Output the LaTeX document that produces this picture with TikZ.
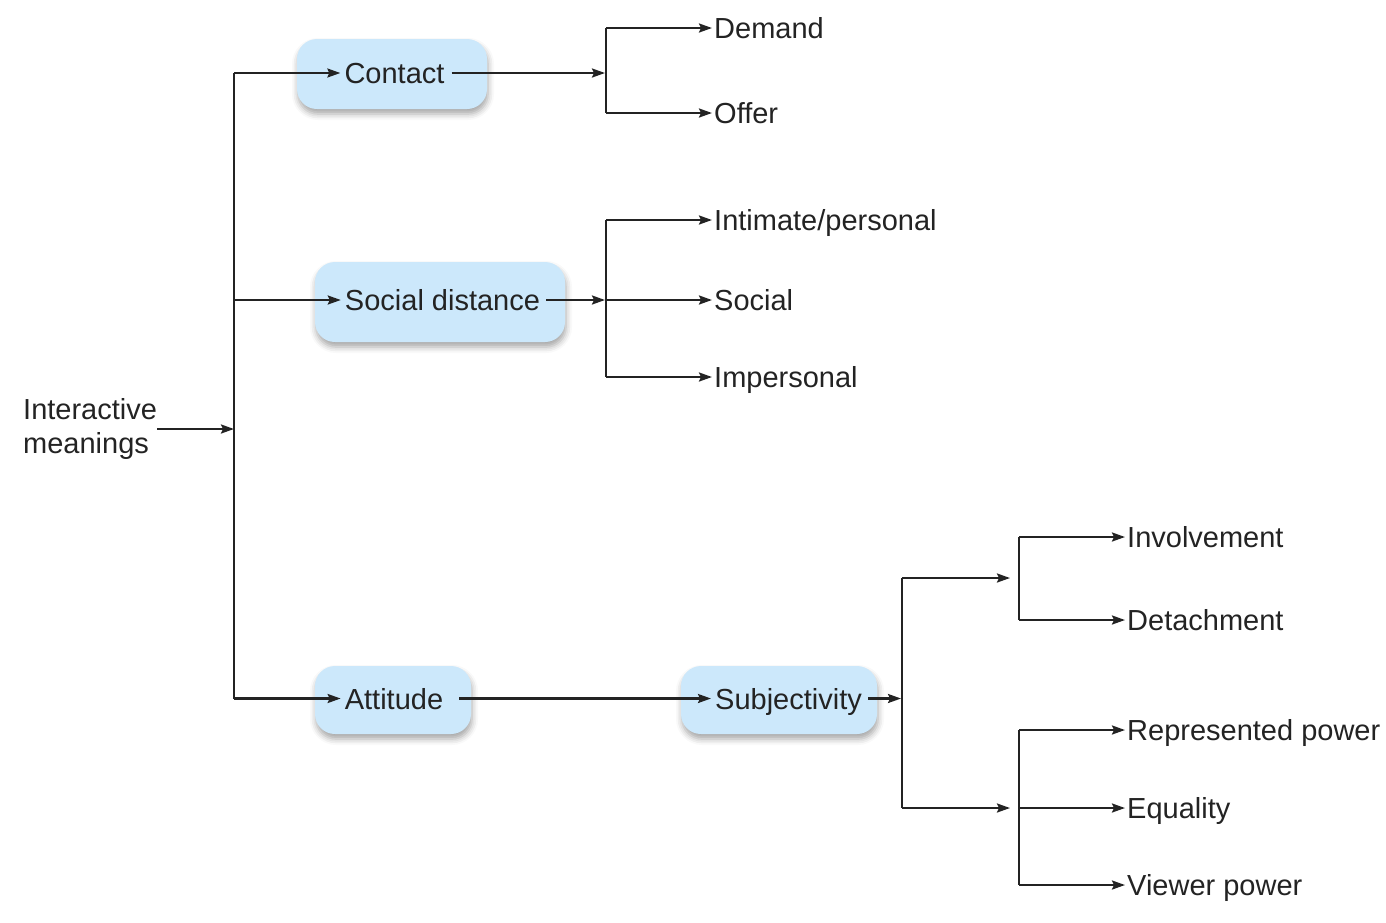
\documentclass[tikz,border=0pt]{standalone}
\usepackage{fontspec}
\setmainfont{Liberation Sans}
\usetikzlibrary{arrows.meta,shadows.blur}
\definecolor{boxblue}{RGB}{204,232,251}
\definecolor{ink}{RGB}{35,35,35}
\tikzset{
  conn/.style={draw=ink, line width=2.2pt},
  arr/.style={conn, -{Stealth[length=13pt,width=9pt,inset=2pt]}},
  boxnode/.style={draw=none, fill=boxblue, rounded corners=20pt,
    blur shadow={shadow xshift=1pt, shadow yshift=-5pt, shadow blur radius=6pt, shadow opacity=35}},
  lbl/.style={text=ink, font=\fontsize{29}{35}\selectfont, text height=21pt, text depth=0pt, inner ysep=0pt, inner xsep=4pt},
  leaf/.style={lbl, anchor=west, inner xsep=2pt},
  rootlbl/.style={text=ink, font=\fontsize{29}{34}\selectfont, anchor=west, align=left, inner sep=0pt},
}
\begin{document}
\begin{tikzpicture}[x=1pt,y=-1pt]
\useasboundingbox (0,0) rectangle (1386,922);
% boxes
\node[boxnode, minimum width=190pt, minimum height=70pt] (cbox) at (392,74) {};
\node[boxnode, minimum width=250pt, minimum height=80pt] (sbox) at (440,302) {};
\node[boxnode, minimum width=156pt, minimum height=68pt] (abox) at (393,700) {};
\node[boxnode, minimum width=196pt, minimum height=68pt] (subbox) at (779,700) {};
% main labels
\node[rootlbl] (im) at (23,429) {Interactive\\meanings};
\node[lbl] (contact) at (394.5,73) {Contact};
\node[lbl] (social) at (442.5,300) {Social distance};
\node[lbl] (attitude) at (394,698.5) {Attitude};
\node[lbl] (subj) at (788.5,698.5) {Subjectivity};
% leaves
\node[leaf] (demand) at (712,28) {Demand};
\node[leaf] (offer) at (712,113) {Offer};
\node[leaf] (intimate) at (712,220) {Intimate/personal};
\node[leaf] (soc) at (712,300) {Social};
\node[leaf] (imp) at (712,377) {Impersonal};
\node[leaf] (inv) at (1125,537) {Involvement};
\node[leaf] (det) at (1125,620) {Detachment};
\node[leaf] (rep) at (1125,730) {Represented power};
\node[leaf] (eq) at (1125,808) {Equality};
\node[leaf] (view) at (1125,885) {Viewer power};
% coordinates
\coordinate (t1) at (234,73);
\coordinate (t3) at (234,698.5);
\coordinate (b1) at (606,73);
\coordinate (b2) at (606,300);
\coordinate (b3) at (902,698.5);
\coordinate (c1) at (1010,578);
\coordinate (c2) at (1010,808);
\coordinate (d1) at (1019,578);
\coordinate (d2) at (1019,808);
% trunk
\draw[conn] (t1) -- (t3);
\draw[arr] (im.east) -- (im.east -| t1);
\draw[arr] (t1) -- (contact.west);
\draw[arr] (t1 |- social) -- (social.west);
\draw[arr] (t3) -- (attitude.west);
% contact branch
\draw[arr, shorten <=3pt] (contact.east) -- ([xshift=-1pt]b1);
\draw[conn] (b1 |- demand) -- (b1 |- offer);
\draw[arr] (b1 |- demand) -- (demand.west);
\draw[arr] (b1 |- offer) -- (offer.west);
% social branch
\draw[arr, shorten <=2pt] (social.east) -- ([xshift=-1pt]b2);
\draw[conn] (b2 |- intimate) -- (b2 |- imp);
\draw[arr] (b2 |- intimate) -- (intimate.west);
\draw[arr] (b2) -- (soc.west);
\draw[arr] (b2 |- imp) -- (imp.west);
% attitude
\draw[arr, shorten <=12pt] (attitude.east) -- (subj.west);
\draw[arr, shorten <=2pt] (subj.east) -- ([xshift=-1pt]b3);
\draw[conn] (b3 |- c1) -- (b3 |- c2);
\draw[arr] (b3 |- c1) -- (c1);
\draw[arr] (b3 |- c2) -- (c2);
% involvement group
\draw[conn] (d1 |- inv) -- (d1 |- det);
\draw[arr] (d1 |- inv) -- (inv.west);
\draw[arr] (d1 |- det) -- (det.west);
% power group
\draw[conn] (d2 |- rep) -- (d2 |- view);
\draw[arr] (d2 |- rep) -- (rep.west);
\draw[arr] (d2) -- (eq.west);
\draw[arr] (d2 |- view) -- (view.west);
\end{tikzpicture}
\end{document}
